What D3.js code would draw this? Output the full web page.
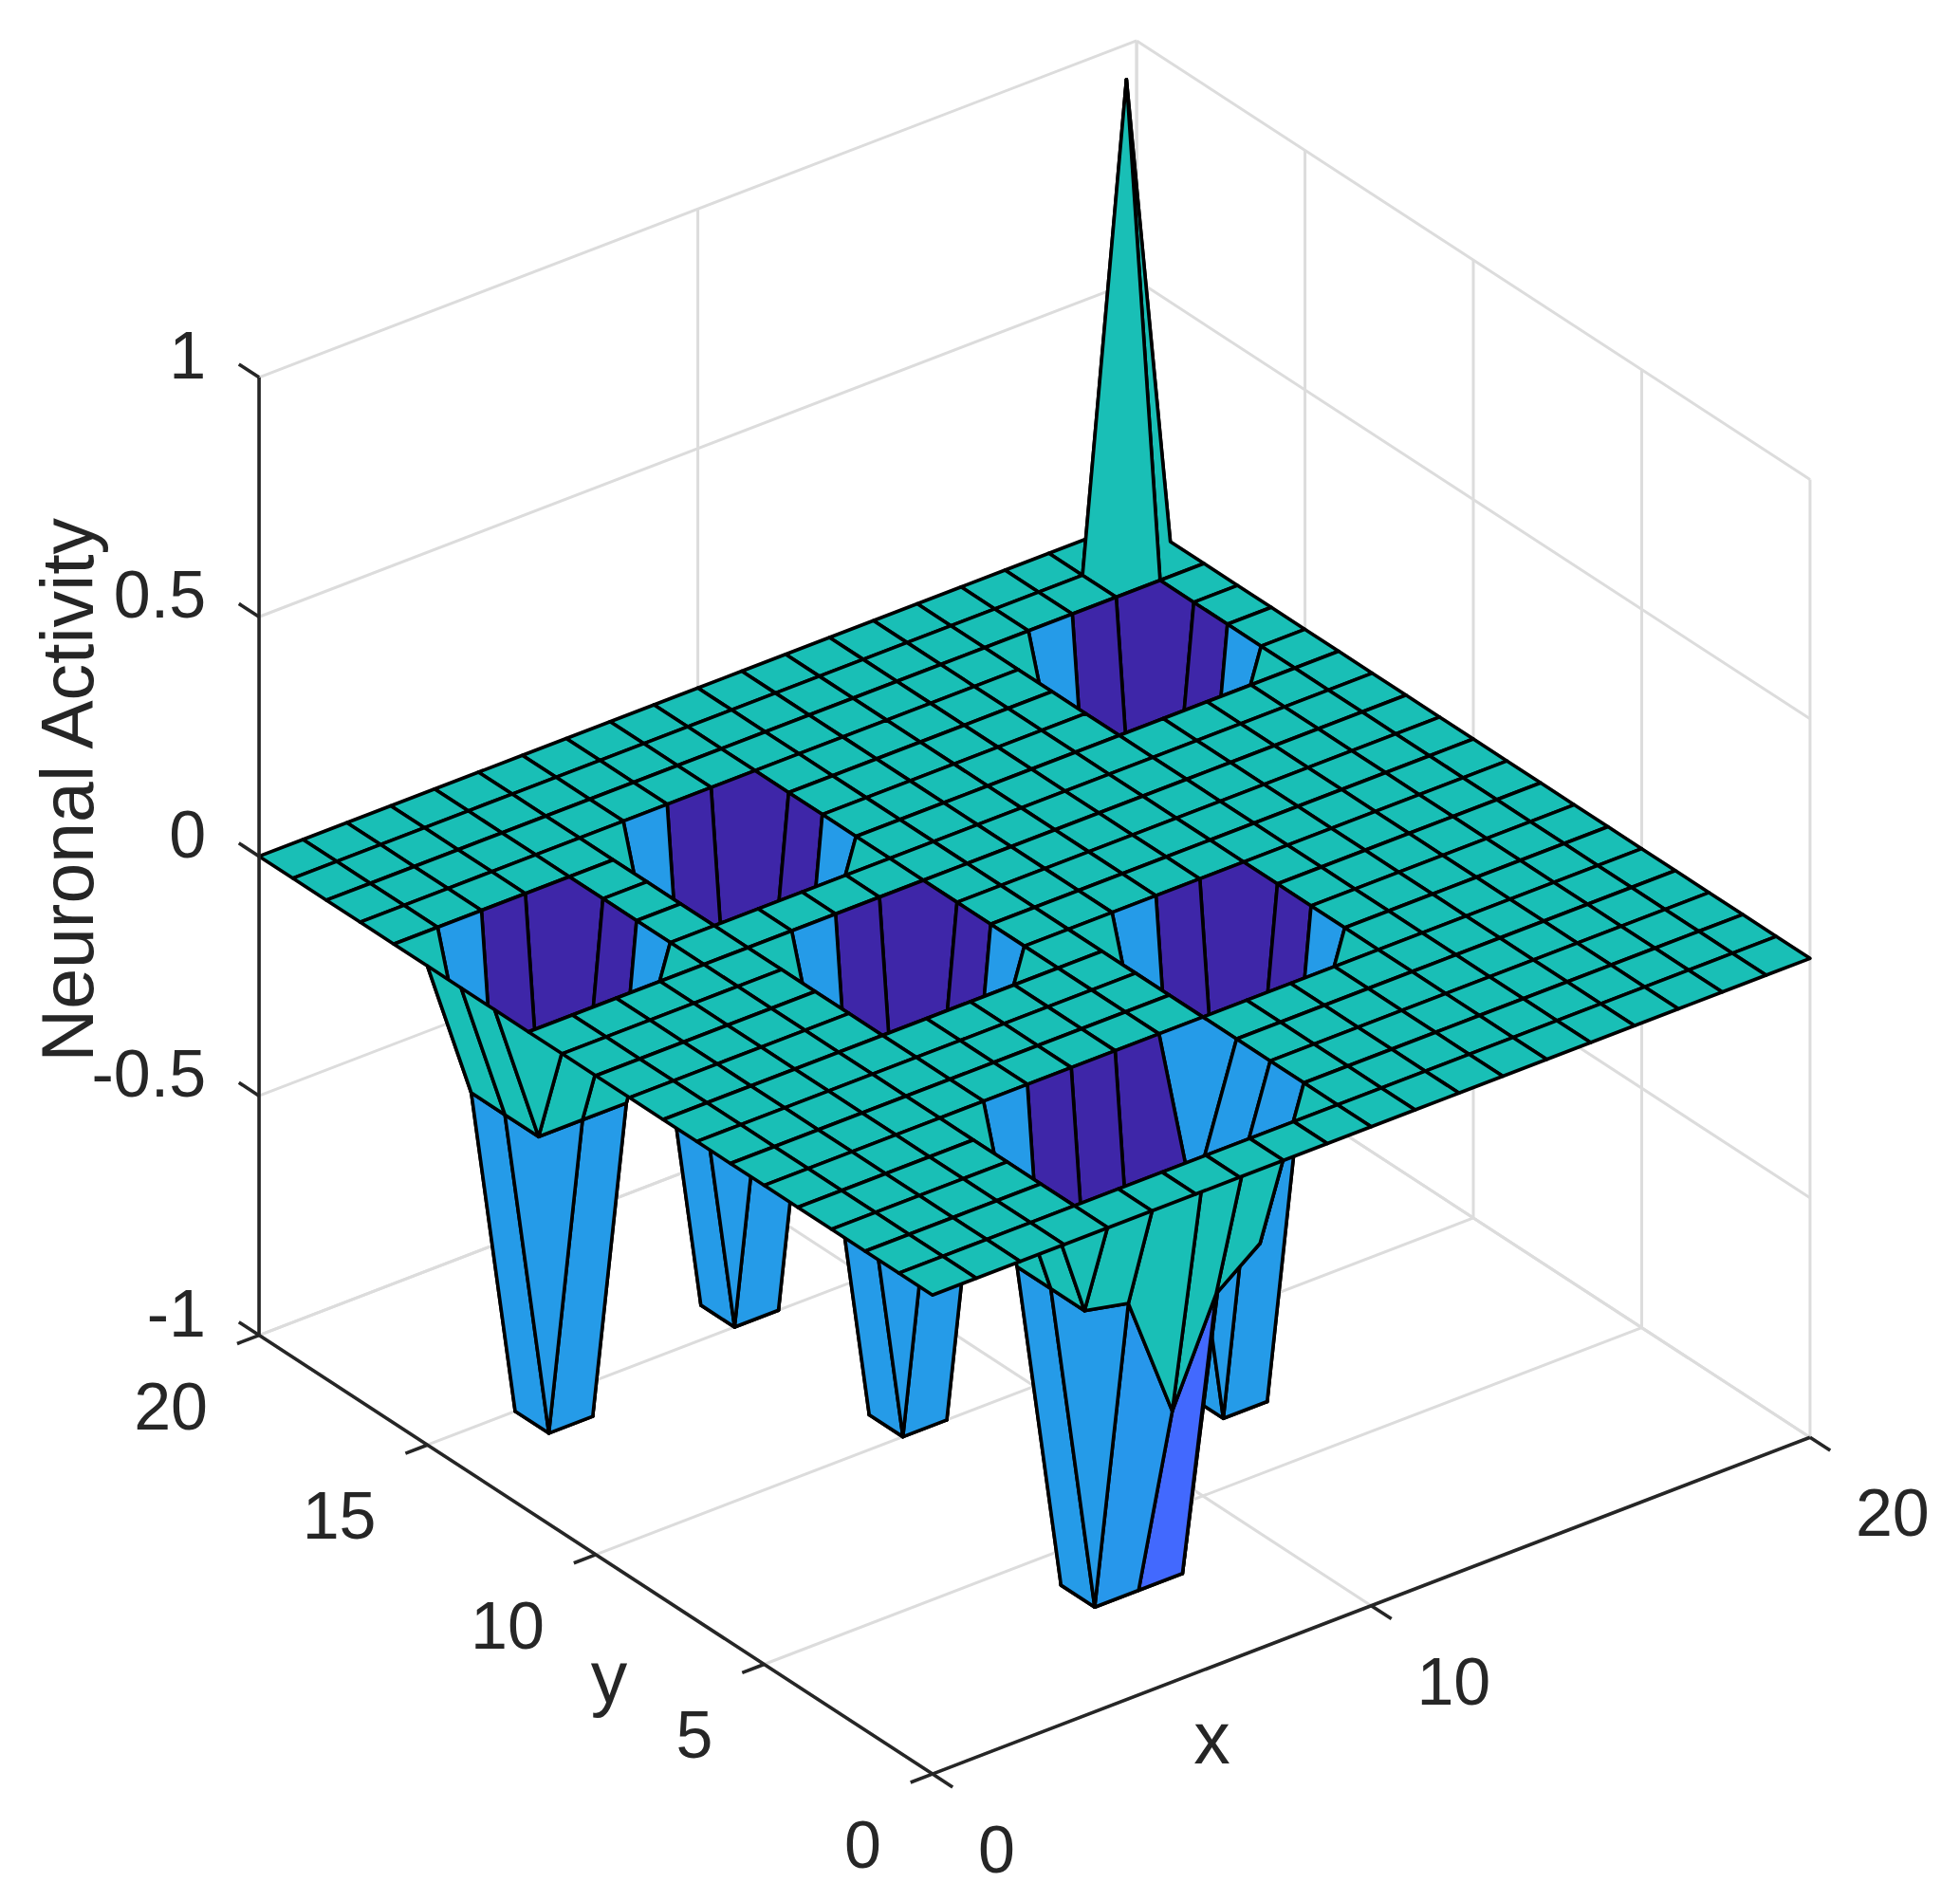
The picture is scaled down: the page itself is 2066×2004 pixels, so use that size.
<!DOCTYPE html>
<html>
<head>
<meta charset="utf-8">
<script src="https://cdn.jsdelivr.net/npm/d3@7"></script>
<style>
  body { margin: 0; background: #ffffff; }
  text { font-family: "Liberation Sans", Arial, Helvetica, sans-serif; fill: #262626; }
</style>
</head>
<body>
<svg id="chart" width="2066" height="2004"></svg>
<script>
  // grid of the network (21 x 21 neurons)
  const xGrid = [0, 1, 2, 3, 4, 5, 6, 7, 8, 9, 10, 11, 12, 13, 14, 15, 16, 17, 18, 19, 20];
  const yGrid = [0, 1, 2, 3, 4, 5, 6, 7, 8, 9, 10, 11, 12, 13, 14, 15, 16, 17, 18, 19, 20];

  // activity[y][x]
  const activity = [
    [0, 0, 0, 0, 0, 0, 0, 0, 0, 0, 0, 0, 0, 0, 0, 0, 0, 0, 0, 0, 0],
    [0, 0, 0, 0, 0, 0, 0, 0, 0, 0, 0, 0, 0, 0, 0, 0, 0, 0, 0, 0, 0],
    [0, 0, 0, 0, 0, -0.3, -0.32, -0.58, -0.37, -0.3, 0, 0, 0, 0, 0, 0, 0, 0, 0, 0, 0],
    [0, 0, 0, 0, 0, -0.3, -1, -1, -1, -0.3, 0, 0, 0, 0, 0, 0, 0, 0, 0, 0, 0],
    [0, 0, 0, 0, 0, -0.3, -1, -1, -1, -0.3, 0, 0, 0, 0, 0, 0, 0, 0, 0, 0, 0],
    [0, 0, 0, 0, 0, 0, 0, 0, 0, 0, 0, 0, 0, 0, 0, 0, 0, 0, 0, 0, 0],
    [0, 0, 0, 0, 0, 0, 0, 0, 0, 0, 0, -0.3, -0.3, -0.3, 0, 0, 0, 0, 0, 0, 0],
    [0, 0, 0, 0, 0, 0, 0, 0, 0, 0, 0, -0.3, -1, -1, 0, 0, 0, 0, 0, 0, 0],
    [0, 0, 0, 0, 0, 0, 0, 0, 0, 0, 0, -0.3, -1, -1, 0, 0, 0, 0, 0, 0, 0],
    [0, 0, 0, 0, 0, 0, -0.3, -0.3, -0.3, 0, 0, 0, 0, 0, 0, 0, 0, 0, 0, 0, 0],
    [0, 0, 0, 0, 0, 0, -0.3, -1, -1, 0, 0, 0, 0, 0, 0, 0, 0, 0, 0, 0, 0],
    [0, 0, 0, 0, 0, 0, -0.3, -1, -1, 0, 0, 0, 0, 0, 0, 0, 0, 0, 0, 0, 0],
    [0, 0, 0, 0, 0, 0, 0, 0, 0, 0, 0, 0, 0, 0, 0, 0, 0, 0, 0, 0, 0],
    [0, -0.3, -0.3, -0.3, 0, 0, 0, 0, 0, 0, 0, 0, 0, 0, 0, 0, 0, 0, 0, 0, 0],
    [0, -0.3, -1, -1, 0, 0, -0.3, -0.3, -0.3, 0, 0, 0, 0, 0, 0, 0, 0, 0, 0, 0, 0],
    [0, -0.3, -1, -1, 0, 0, -0.3, -1, -1, 0, 0, 0, 0, 0, 0, 0, -0.3, -0.3, -0.3, 0, 0],
    [0, 0, 0, 0, 0, 0, -0.3, -1, -1, 0, 0, 0, 0, 0, 0, 0, -0.3, -1, -1, 0, 0],
    [0, 0, 0, 0, 0, 0, 0, 0, 0, 0, 0, 0, 0, 0, 0, 0, -0.3, -1, -1, 0, 0],
    [0, 0, 0, 0, 0, 0, 0, 0, 0, 0, 0, 0, 0, 0, 0, 0, 0, 0, 0, 0, 0],
    [0, 0, 0, 0, 0, 0, 0, 0, 0, 0, 0, 0, 0, 0, 0, 0, 0, 0, 0, 1, 0],
    [0, 0, 0, 0, 0, 0, 0, 0, 0, 0, 0, 0, 0, 0, 0, 0, 0, 0, 0, 0, 0]
  ];

  const xTicks = [0, 10, 20];
  const yTicks = [0, 5, 10, 15, 20];
  const zTicks = [-1, -0.5, 0, 0.5, 1];
  const zTickLabels = ["-1", "-0.5", "0", "0.5", "1"];

  // parula, 64 steps
  const parula = [
    [0.2422,0.1504,0.6603],[0.2504,0.1650,0.7076],[0.2578,0.1818,0.7511],[0.2647,0.1978,0.7952],
    [0.2706,0.2147,0.8364],[0.2751,0.2342,0.8710],[0.2783,0.2559,0.8991],[0.2803,0.2782,0.9221],
    [0.2813,0.3006,0.9414],[0.2810,0.3228,0.9579],[0.2795,0.3447,0.9717],[0.2760,0.3667,0.9829],
    [0.2699,0.3892,0.9906],[0.2602,0.4123,0.9952],[0.2440,0.4358,0.9988],[0.2206,0.4603,0.9973],
    [0.1963,0.4847,0.9892],[0.1834,0.5074,0.9798],[0.1786,0.5289,0.9682],[0.1764,0.5499,0.9520],
    [0.1687,0.5703,0.9359],[0.1540,0.5902,0.9218],[0.1460,0.6091,0.9079],[0.1380,0.6276,0.8973],
    [0.1248,0.6459,0.8883],[0.1113,0.6635,0.8763],[0.0952,0.6798,0.8598],[0.0689,0.6948,0.8394],
    [0.0297,0.7082,0.8163],[0.0036,0.7203,0.7917],[0.0067,0.7312,0.7660],[0.0433,0.7411,0.7394],
    [0.0964,0.7500,0.7120],[0.1408,0.7584,0.6842],[0.1717,0.7670,0.6554],[0.1938,0.7758,0.6251],
    [0.2161,0.7843,0.5923],[0.2470,0.7918,0.5567],[0.2906,0.7973,0.5188],[0.3406,0.8008,0.4789],
    [0.3909,0.8029,0.4354],[0.4456,0.8024,0.3909],[0.5044,0.7993,0.3480],[0.5616,0.7942,0.3045],
    [0.6174,0.7876,0.2612],[0.6720,0.7793,0.2227],[0.7242,0.7698,0.1910],[0.7738,0.7598,0.1646],
    [0.8203,0.7498,0.1535],[0.8634,0.7406,0.1596],[0.9035,0.7330,0.1774],[0.9393,0.7288,0.2100],
    [0.9728,0.7298,0.2394],[0.9956,0.7434,0.2371],[0.9970,0.7659,0.2199],[0.9952,0.7893,0.2028],
    [0.9892,0.8136,0.1885],[0.9786,0.8386,0.1766],[0.9676,0.8639,0.1643],[0.9610,0.8890,0.1537],
    [0.9597,0.9135,0.1423],[0.9628,0.9373,0.1265],[0.9691,0.9606,0.1064],[0.9769,0.9839,0.0805]
  ];

  const svg = d3.select("#chart");

  // normalised plot box, MATLAB default view az = -37.5, el = 30
  const nx = d3.scaleLinear().domain([0, 20]).range([-0.5, 0.5]);
  const ny = d3.scaleLinear().domain([0, 20]).range([-0.5, 0.5]);
  const nz = d3.scaleLinear().domain([-1, 1]).range([-0.5, 0.5]);
  const az = -37.5 * Math.PI / 180, el = 30 * Math.PI / 180;
  const sx = d3.scaleLinear().domain([-1, 1]).range([1090.5 - 1166, 1090.5 + 1166]);
  const sy = d3.scaleLinear().domain([-1, 1]).range([956.5 + 1166, 956.5 - 1166]);

  function proj(x, y, z) {
    const a = nx(x), b = ny(y), c = nz(z);
    const u = Math.cos(az) * a + Math.sin(az) * b;
    const v = -Math.sin(el) * Math.sin(az) * a + Math.sin(el) * Math.cos(az) * b + Math.cos(el) * c;
    return [sx(u), sy(v)];
  }
  // horizontal distance toward the viewer, larger = nearer
  function nearness(x, y) {
    return Math.sin(az) * nx(x) - Math.cos(az) * ny(y);
  }

  const faceColor = d3.scaleQuantize()
    .domain([-1, 1])
    .range(parula.map(c => d3.rgb(c[0] * 255, c[1] * 255, c[2] * 255).formatHex()));

  const line3 = (p, q) => {
    const a = proj(...p), b = proj(...q);
    return `M${a[0]},${a[1]}L${b[0]},${b[1]}`;
  };

  // grid lines on the back walls and the floor
  const gridPaths = [];
  zTicks.forEach(t => {
    gridPaths.push(line3([0, 20, t], [20, 20, t]));
    gridPaths.push(line3([20, 0, t], [20, 20, t]));
  });
  xTicks.forEach(t => {
    gridPaths.push(line3([t, 20, -1], [t, 20, 1]));
    gridPaths.push(line3([t, 0, -1], [t, 20, -1]));
  });
  yTicks.forEach(t => {
    gridPaths.push(line3([20, t, -1], [20, t, 1]));
    gridPaths.push(line3([0, t, -1], [20, t, -1]));
  });
  svg.append("g")
    .selectAll("path")
    .data(gridPaths)
    .join("path")
    .attr("d", d => d)
    .attr("fill", "none")
    .attr("stroke", "#dcdcdc")
    .attr("stroke-width", 3);

  // surface faces, painted far to near
  const faces = [];
  for (let j = 0; j < yGrid.length - 1; j++) {
    for (let i = 0; i < xGrid.length - 1; i++) {
      const pts = [[i, j], [i + 1, j], [i + 1, j + 1], [i, j + 1]]
        .map(([a, b]) => proj(xGrid[a], yGrid[b], activity[b][a]));
      faces.push({
        pts: pts,
        value: activity[j][i],
        near: nearness((xGrid[i] + xGrid[i + 1]) / 2, (yGrid[j] + yGrid[j + 1]) / 2)
      });
    }
  }
  faces.sort((a, b) => a.near - b.near);

  svg.append("g")
    .selectAll("polygon")
    .data(faces)
    .join("polygon")
    .attr("points", d => d.pts.map(p => p.join(",")).join(" "))
    .attr("fill", d => faceColor(d.value))
    .attr("stroke", "#000000")
    .attr("stroke-width", 3.6)
    .attr("stroke-linejoin", "round");

  // axis lines and ticks
  const axisPaths = [
    line3([0, 20, -1], [0, 20, 1]),
    line3([0, 0, -1], [0, 20, -1]),
    line3([0, 0, -1], [20, 0, -1])
  ];
  zTicks.forEach(t => axisPaths.push(line3([0, 20, t], [0, 20.6, t])));
  xTicks.forEach(t => axisPaths.push(line3([t, 0, -1], [t, -0.6, -1])));
  yTicks.forEach(t => axisPaths.push(line3([0, t, -1], [-0.5, t, -1])));
  svg.append("g")
    .selectAll("path")
    .data(axisPaths)
    .join("path")
    .attr("d", d => d)
    .attr("fill", "none")
    .attr("stroke", "#262626")
    .attr("stroke-width", 3.6);

  // tick labels
  const labels = svg.append("g").attr("font-size", 70);
  labels.selectAll(".zl")
    .data(zTicks)
    .join("text")
    .attr("class", "zl")
    .attr("text-anchor", "end")
    .attr("x", d => proj(0, 20, d)[0] - 56)
    .attr("y", d => proj(0, 20, d)[1] + 1)
    .text((d, i) => zTickLabels[i]);
  labels.selectAll(".xl")
    .data(xTicks)
    .join("text")
    .attr("class", "xl")
    .attr("text-anchor", "start")
    .attr("x", d => proj(d, 0, -1)[0] + 48)
    .attr("y", d => proj(d, 0, -1)[1] + 104)
    .text(d => d);
  labels.selectAll(".yl")
    .data(yTicks)
    .join("text")
    .attr("class", "yl")
    .attr("text-anchor", "end")
    .attr("x", d => proj(0, d, -1)[0] - 54)
    .attr("y", d => proj(0, d, -1)[1] + 99)
    .text(d => d);

  // axis titles
  const xMid = proj(10, 0, -1), yMid = proj(0, 10, -1), zMid = proj(0, 20, 0);
  svg.append("text")
    .attr("font-size", 77)
    .attr("text-anchor", "middle")
    .attr("x", xMid[0] - 168)
    .attr("y", xMid[1] + 166)
    .text("x");
  svg.append("text")
    .attr("font-size", 77)
    .attr("text-anchor", "middle")
    .attr("x", yMid[0] + 14)
    .attr("y", yMid[1] + 156)
    .text("y");
  svg.append("text")
    .attr("font-size", 77)
    .attr("text-anchor", "middle")
    .attr("transform", `translate(${zMid[0] - 175},${zMid[1] - 70}) rotate(-90)`)
    .text("Neuronal Activity");
</script>
</body>
</html>
